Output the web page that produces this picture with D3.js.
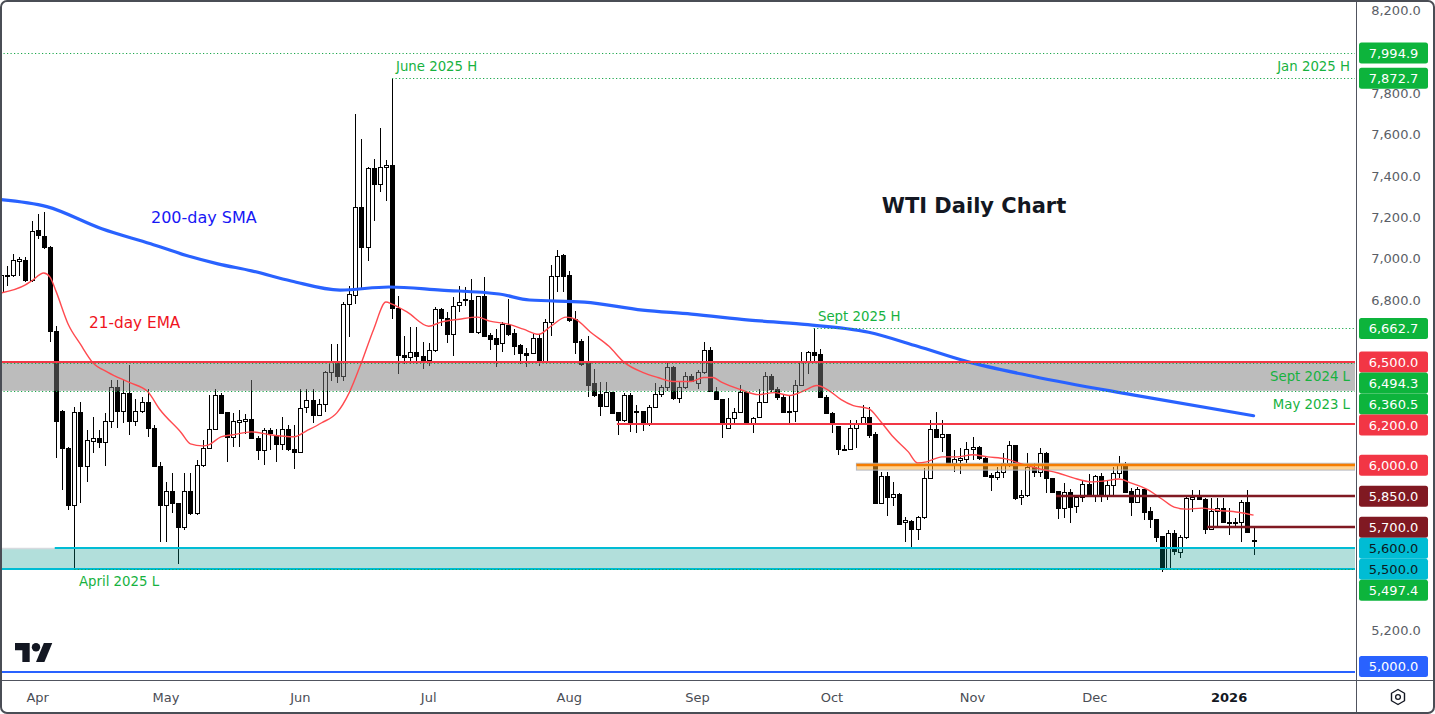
<!DOCTYPE html>
<html>
<head>
<meta charset="utf-8">
<script src="https://cdn.jsdelivr.net/npm/d3@7"></script>
<style>
html,body{margin:0;padding:0;background:#fff;}
svg{display:block;}
</style>
</head>
<body>
<svg id="chart" width="1435" height="714"></svg>
<script>
// ---------------- DATA ----------------
// Daily candles (bar index 0 = late March 2025 ... 205 = early Jan 2026)
const opens = [
6839,6916,6921,6990,6994,6897,7140,7111,7057,6649,6265,6085,5807,6260,5997,6119,6133,6114,6216,6377,
6265,6352,6216,6265,6308,6182,5997,5807,5876,5817,5700,5876,5768,6002,6085,6177,6342,6260,6138,6210,
6216,6226,6133,6075,6172,6148,6104,6177,6080,6065,6284,6318,6245,6299,6450,6498,6430,6780,6824,7252,
7057,7437,7359,7442,7452,6761,6532,6522,6547,6527,6508,6557,6756,6712,6634,6775,6800,6800,6644,6819,
6629,6615,6591,6678,6639,6581,6542,6542,6615,6505,6693,6917,7018,6921,6707,6600,6494,6396,6347,6289,
6357,6260,6221,6342,6260,6265,6201,6284,6347,6377,6474,6328,6381,6430,6396,6454,6557,6362,6323,6182,
6230,6260,6357,6201,6235,6308,6430,6367,6333,6265,6265,6391,6503,6547,6537,6333,6255,6192,6080,6080,
6182,6206,6235,6153,5817,5948,5846,5860,5725,5729,5690,5749,5939,6177,6138,6153,6012,6026,6031,6080,
6090,6036,5953,5944,5968,6010,6099,5846,5856,5992,5968,6060,5939,5876,5793,5870,5802,5846,5910,5851,
5948,5851,5905,5963,6007,5876,5822,5885,5778,5739,5656,5501,5671,5579,5652,5836,5846,5836,5690,5778,
5793,5725,5722,5725,5822,5637];
const highs = [
6965,6965,7023,7009,7009,7184,7218,7228,7060,6673,6270,6090,6284,6308,6172,6235,6172,6255,6415,6415,
6415,6484,6323,6333,6367,6197,6017,5920,5963,5817,5963,5963,6026,6124,6342,6367,6352,6260,6255,6270,
6250,6415,6140,6182,6182,6177,6235,6197,6197,6370,6367,6367,6323,6455,6586,6586,6790,6868,7700,7577,
7445,7480,7632,7476,7873,6819,6625,6668,6668,6595,6591,6766,6761,6741,6814,6868,6863,6902,6819,6912,
6640,6658,6693,6805,6658,6586,6566,6634,6634,6707,6970,7043,7023,6941,6746,6610,6625,6464,6401,6401,
6357,6260,6352,6352,6294,6265,6294,6396,6391,6503,6479,6406,6454,6440,6459,6595,6571,6377,6323,6328,
6279,6391,6357,6235,6367,6454,6440,6377,6342,6338,6415,6547,6552,6663,6562,6338,6260,6192,6099,6221,
6221,6294,6284,6162,5968,5968,5920,5866,5749,5734,5754,5987,6221,6260,6221,6153,6075,6085,6114,6138,
6094,6046,5963,5992,6060,6120,6099,5880,6060,6012,6085,6065,5939,5876,5914,5885,5856,5929,5958,5953,
5963,5929,5992,6046,6017,5890,5895,5885,5798,5739,5656,5686,5686,5661,5846,5880,5880,5841,5841,5841,
5841,5793,5744,5832,5880,5705];
const lows = [
6819,6868,6911,6916,6887,6887,7096,7048,6595,6036,5880,5783,5497,5817,5920,6060,6085,5997,6182,6182,
6206,6148,6192,6255,6138,5992,5627,5627,5768,5525,5686,5759,5759,5992,6080,6172,6255,6017,6090,6090,
6150,6128,6026,6002,6075,6017,6075,6070,5983,6060,6255,6206,6245,6260,6406,6396,6410,6620,6780,6853,
6989,7184,7325,7281,6707,6440,6488,6488,6488,6464,6479,6547,6673,6591,6527,6741,6771,6644,6634,6620,
6560,6474,6547,6625,6532,6488,6474,6537,6479,6498,6625,6839,6839,6693,6540,6479,6333,6333,6240,6284,
6255,6148,6211,6162,6158,6167,6192,6279,6333,6362,6318,6304,6367,6401,6367,6440,6357,6318,6133,6177,
6206,6255,6197,6158,6231,6304,6357,6318,6255,6206,6211,6386,6440,6498,6333,6255,6158,6051,6070,6075,
6085,6206,6133,5817,5812,5754,5803,5715,5627,5598,5637,5739,5934,6138,6065,6012,5968,5958,6012,6026,
6026,5944,5876,5929,5939,5990,5830,5807,5846,5944,5944,5866,5866,5739,5744,5720,5768,5822,5846,5822,
5822,5832,5856,5939,5866,5754,5817,5734,5696,5627,5482,5496,5564,5554,5642,5773,5832,5666,5686,5705,
5720,5661,5696,5627,5671,5564];
const closes = [
6921,6921,6994,6998,6897,7135,7116,7057,6649,6216,6085,5807,6260,5997,6124,6133,6114,6216,6377,6265,
6352,6216,6265,6308,6182,5997,5807,5876,5817,5700,5876,5768,6002,6085,6177,6342,6255,6138,6216,6220,
6226,6133,6075,6172,6158,6104,6177,6080,6065,6279,6318,6245,6299,6450,6498,6430,6780,6829,7252,7057,
7437,7359,7442,7452,6761,6532,6522,6547,6527,6508,6557,6756,6712,6634,6771,6790,6805,6644,6819,6625,
6610,6586,6683,6634,6576,6542,6532,6615,6500,6693,6917,7013,6917,6702,6595,6488,6391,6338,6289,6357,
6255,6221,6342,6206,6265,6201,6284,6347,6377,6474,6328,6381,6430,6406,6454,6557,6362,6323,6201,6230,
6260,6357,6201,6230,6308,6430,6367,6333,6260,6262,6391,6503,6547,6532,6333,6255,6201,6080,6080,6182,
6206,6235,6148,5817,5948,5846,5860,5715,5735,5690,5749,5939,6177,6138,6153,6012,6031,6036,6080,6090,
6036,5948,5944,5968,6010,6099,5841,5856,5992,5968,6060,5939,5871,5793,5870,5800,5846,5910,5851,5948,
5851,5905,5963,6007,5871,5822,5885,5773,5739,5652,5501,5671,5584,5652,5841,5846,5836,5690,5778,5793,
5725,5720,5724,5822,5676,5632];

// 21-day EMA (bar index, price)
const emaBars   = [0,4,5,7,8,9,11,13,15,17.5,21,24,26,29.5,31,33,34,36,38,41,44,48,50,52.5,55,57,59,61,63,64,66.5,70,72,75,78,80,83,85.5,88,90,92.5,94,96.5,99.5,102,105,107.5,110,113,115,116.5,118,121,124,126.5,129,131.5,133.5,135.5,137.5,139.5,142,144,146,148.5,150,151.5,154,156.5,159,161.5,164.5,167,170,173,175.5,178.5,180.5,183,185,187.5,190,192,194,196.5,199,202.5,205];
const emaValues = [6834,6873,6892,6931,6912,6843,6683,6586,6498,6450,6401,6357,6270,6158,6104,6094,6099,6138,6148,6162,6148,6138,6167,6206,6255,6352,6498,6659,6790,6780,6741,6673,6693,6707,6717,6698,6683,6659,6634,6673,6717,6707,6644,6576,6498,6450,6425,6406,6406,6425,6425,6401,6367,6342,6352,6338,6362,6386,6362,6318,6289,6274,6211,6138,6065,6012,6017,6041,6041,6051,6041,6031,6007,5983,5963,5939,5920,5924,5934,5914,5885,5837,5798,5788,5793,5783,5773,5759];

// 200-day SMA (bar index, price)
const smaBars   = [0,7.5,16.5,24.5,30.5,35.5,41,47.5,55.5,63.5,72,81.5,86.5,95.5,105,113,122.5,131,142,150,158,169,185,205];
const smaValues = [7286,7252,7145,7072,7014,6975,6941,6892,6848,6863,6848,6829,6800,6790,6751,6732,6703,6683,6644,6576,6503,6430,6342,6240];

// Time axis
const monthLabels = ["Apr","May","Jun","Jul","Aug","Sep","Oct","Nov","Dec","2026"];
const monthBars   = [6,27,49,70,93,114,136,159,179,201];

// Price axis ticks
const priceTicks = [5000,5200,5400,5600,5800,6000,6200,6400,6600,6800,7000,7200,7400,7600,7800,8000,8200];

// Key levels
const levelNames  = ["Jan 2025 H","June 2025 H","Sept 2025 H","","Sept 2024 L","May 2023 L","","","","","","","April 2025 L",""];
const levelValues = [7994.9,7872.7,6662.7,6500,6494.3,6360.5,6200,6000,5850,5700,5600,5500,5497.4,5000];
const levelStartBars = [-0.16,64,133,-0.16,-0.16,-0.16,100.8,140,172.7,197.4,8.8,-0.16,12,-0.16];
const levelKinds  = ["dot","dot","dot","red","dot","dot","red","orange","maroon","maroon","cyan","cyan","dot","blue"];

// Zones
const zoneTop    = [6500, 5600, 6010];
const zoneBottom = [6360.5, 5500, 5977];
const zoneStartBars = [-0.16, -0.16, 140];
const zoneKinds  = ["gray","teal","orange"];

// ---------------- STYLES ----------------
const FONT = "'DejaVu Sans', Verdana, sans-serif";
const GREEN_TXT = "#17b23f";
const kindStyle = {
  dot:    {stroke:"#1aa64a", width:1, dash:"1.2,2.3"},
  red:    {stroke:"#f23645", width:2},
  orange: {stroke:"#f57c00", width:2.5},
  maroon: {stroke:"#801922", width:2.5},
  cyan:   {stroke:"#00bcd4", width:2},
  blue:   {stroke:"#2962ff", width:2}
};
const labelStyle = {
  dot:    {bg:"#0db43c", fg:"#fff"},
  red:    {bg:"#f23645", fg:"#fff"},
  orange: {bg:"#f23645", fg:"#fff"},
  maroon: {bg:"#801922", fg:"#fff"},
  cyan:   {bg:"#00bcd4", fg:"#0b1a22"},
  blue:   {bg:"#2962ff", fg:"#fff"}
};
const zoneStyle = {
  gray:   {fill:"rgba(121,121,121,0.5)", stroke:"none"},
  teal:   {fill:"rgba(0,150,136,0.3)", stroke:"none"},
  orange: {fill:"rgba(255,167,38,0.5)", stroke:"#b4b9c3"}
};

// ---------------- LAYOUT ----------------
const W = 1435, H = 714;
const PLOT_R = 1356, AXIS_Y = 680;
const svg = d3.select("#chart");

const x = d3.scaleLinear().domain([-0.16, 221.6]).range([0, 1355]);
const y = d3.scaleLinear().domain([5000, 8000]).range([672, 52]);

svg.append("rect").attr("width", W).attr("height", H).attr("fill", "#fff");

svg.append("defs").append("clipPath").attr("id", "plotClip")
  .append("rect").attr("x", 0).attr("y", 0).attr("width", PLOT_R - 1).attr("height", AXIS_Y);

const plot = svg.append("g").attr("clip-path", "url(#plotClip)");

// ---------------- CANDLES ----------------
const bars = opens.map((o, i) => ({i, o, h: highs[i], l: lows[i], c: closes[i]}));
const px = i => Math.round(x(i)) + 0.5;

const cg = plot.append("g");
cg.selectAll("line").data(bars).join("line")
  .attr("x1", d => px(d.i)).attr("x2", d => px(d.i))
  .attr("y1", d => Math.round(y(d.h))).attr("y2", d => Math.round(y(d.l)))
  .attr("stroke", "#000").attr("stroke-width", 1);
cg.selectAll("rect").data(bars).join("rect")
  .attr("x", d => px(d.i) - 2)
  .attr("width", 4)
  .attr("y", d => Math.round(y(Math.max(d.o, d.c))) + 0.5)
  .attr("height", d => Math.max(1, Math.round(y(Math.min(d.o, d.c))) - Math.round(y(Math.max(d.o, d.c)))))
  .attr("fill", d => d.c >= d.o ? "#fff" : "#000")
  .attr("stroke", "#000").attr("stroke-width", 1);

// ---------------- ZONES ----------------
zoneTop.forEach((t, k) => {
  const st = zoneStyle[zoneKinds[k]];
  plot.append("rect")
    .attr("x", x(zoneStartBars[k])).attr("width", 1355 - x(zoneStartBars[k]))
    .attr("y", y(t)).attr("height", y(zoneBottom[k]) - y(t))
    .attr("fill", st.fill).attr("stroke", st.stroke).attr("stroke-width", 1);
});
plot.append("line").attr("x1", 0).attr("x2", x(8.8))
  .attr("y1", Math.round(y(5600)) + 0.5).attr("y2", Math.round(y(5600)) + 0.5)
  .attr("stroke", "#d6dadf").attr("stroke-width", 1.5);

// ---------------- MOVING AVERAGES ----------------
const smaLine = d3.line().x((d, k) => x(smaBars[k])).y(d => y(d)).curve(d3.curveMonotoneX);
plot.append("path").attr("d", smaLine(smaValues))
  .attr("fill", "none").attr("stroke", "#2962ff").attr("stroke-width", 3.2).attr("stroke-linecap", "round");

const emaLine = d3.line().x((d, k) => x(emaBars[k])).y(d => y(d)).curve(d3.curveMonotoneX);
plot.append("path").attr("d", emaLine(emaValues))
  .attr("fill", "none").attr("stroke", "#ff4a4f").attr("stroke-width", 1.4);

// ---------------- LEVEL LINES ----------------
levelValues.forEach((v, k) => {
  const st = kindStyle[levelKinds[k]];
  const yy = st.width % 2 === 1 ? Math.round(y(v)) + 0.5 : Math.round(y(v));
  plot.append("line")
    .attr("x1", x(levelStartBars[k])).attr("x2", 1355)
    .attr("y1", yy).attr("y2", yy)
    .attr("stroke", st.stroke).attr("stroke-width", st.width)
    .attr("stroke-dasharray", st.dash || null);
});

// ---------------- ANNOTATIONS ----------------
const ann = svg.append("g").attr("font-family", FONT);
ann.append("text").attr("x", 974).attr("y", 213).attr("text-anchor", "middle")
  .attr("font-size", 21).attr("font-weight", "bold").attr("fill", "#131722").text("WTI Daily Chart");
ann.append("text").attr("x", 151).attr("y", 222.5).attr("font-size", 16).attr("fill", "#1818f5").text("200-day SMA");
ann.append("text").attr("x", 89).attr("y", 327.5).attr("font-size", 15.3).attr("fill", "#f0141e").text("21-day EMA");

const annPos = {
  "June 2025 H":  {x: 396, y: 70.5, a: "start"},
  "Jan 2025 H":   {x: 1350, y: 70.5, a: "end"},
  "Sept 2025 H":  {x: 818, y: 321, a: "start"},
  "Sept 2024 L":  {x: 1350, y: 381, a: "end"},
  "May 2023 L":   {x: 1350, y: 409, a: "end"},
  "April 2025 L": {x: 79, y: 586, a: "start"}
};
levelNames.forEach(n => {
  if (!n) return;
  const p = annPos[n];
  ann.append("text").attr("x", p.x).attr("y", p.y).attr("text-anchor", p.a)
    .attr("font-size", 13.3).attr("fill", GREEN_TXT).text(n);
});

// ---------------- AXES ----------------
const ax = svg.append("g").attr("font-family", FONT);
ax.append("rect").attr("x", PLOT_R).attr("y", 0).attr("width", W - PLOT_R).attr("height", H).attr("fill", "#fff");
ax.append("rect").attr("x", 0).attr("y", AXIS_Y).attr("width", W).attr("height", H - AXIS_Y).attr("fill", "#fff");

const fmt = d3.format(",.1f");

// coloured price labels with overlap avoidance
const tags = levelValues.map((v, k) => ({v, kind: levelKinds[k], yy: y(v)})).sort((a, b) => a.yy - b.yy);
const TAG_H = 21;
let prev = -Infinity;
tags.forEach(t => {
  if (t.yy < prev + TAG_H) t.yy = prev + TAG_H;
  t.yy = Math.min(t.yy, AXIS_Y - TAG_H / 2 - 3);
  prev = t.yy;
});

// regular ticks, skipping those hidden behind a coloured label
const visibleTicks = priceTicks.filter(p => tags.every(t => Math.abs(y(p) - t.yy) >= 14));
ax.selectAll("text.tick").data(visibleTicks).join("text").attr("class", "tick")
  .attr("x", 1396).attr("y", d => y(d) + 4.6).attr("text-anchor", "middle")
  .attr("font-size", 13).attr("fill", "#5a5e66").text(d => fmt(d));

const tg = ax.append("g");
tags.forEach(t => {
  const st = labelStyle[t.kind];
  tg.append("rect").attr("x", 1359).attr("y", t.yy - TAG_H / 2).attr("width", 69).attr("height", TAG_H)
    .attr("rx", 2.5).attr("fill", st.bg);
  tg.append("text").attr("x", 1393.5).attr("y", t.yy + 4.7).attr("text-anchor", "middle")
    .attr("font-size", 13).attr("fill", st.fg).text(fmt(t.v));
});

// time axis
ax.selectAll("text.month").data(monthLabels).join("text").attr("class", "month")
  .attr("x", (d, k) => x(monthBars[k])).attr("y", 702).attr("text-anchor", "middle")
  .attr("font-size", 13).attr("fill", (d) => d === "2026" ? "#131722" : "#4a4d55")
  .attr("font-weight", d => d === "2026" ? "bold" : "normal").text(d => d);

// separators
ax.append("line").attr("x1", 0).attr("x2", W).attr("y1", AXIS_Y + 0.5).attr("y2", AXIS_Y + 0.5)
  .attr("stroke", "#50535e").attr("stroke-width", 1);
ax.append("line").attr("x1", PLOT_R + 0.5).attr("x2", PLOT_R + 0.5).attr("y1", 0).attr("y2", H)
  .attr("stroke", "#50535e").attr("stroke-width", 1);

// settings icon
const cx0 = 1398, cy0 = 697, r0 = 7.5;
const hex = d3.range(6).map(k => {
  const a = (-90 + 60 * k) * Math.PI / 180;
  return [cx0 + r0 * Math.cos(a), cy0 + r0 * Math.sin(a)];
});
ax.append("polygon").attr("points", hex.map(p => p.join(",")).join(" "))
  .attr("fill", "none").attr("stroke", "#131722").attr("stroke-width", 1.4).attr("stroke-linejoin", "round");
ax.append("circle").attr("cx", cx0).attr("cy", cy0).attr("r", 2.4)
  .attr("fill", "none").attr("stroke", "#131722").attr("stroke-width", 1.3);

// TradingView logo
const logo = svg.append("g").attr("transform", "translate(15,638.8) scale(1.05)").attr("fill", "#131722");
logo.append("path").attr("d", "M14 22H7V11H0V4h14v18z");
logo.append("path").attr("d", "M28 22h-8l7.5-18h8L28 22z");
logo.append("circle").attr("cx", 20).attr("cy", 8).attr("r", 4);

// frame
svg.append("rect").attr("x", 1).attr("y", 1).attr("width", W - 2).attr("height", H - 2).attr("rx", 6)
  .attr("fill", "none").attr("stroke", "#4a4d55").attr("stroke-width", 2);
</script>
</body>
</html>
